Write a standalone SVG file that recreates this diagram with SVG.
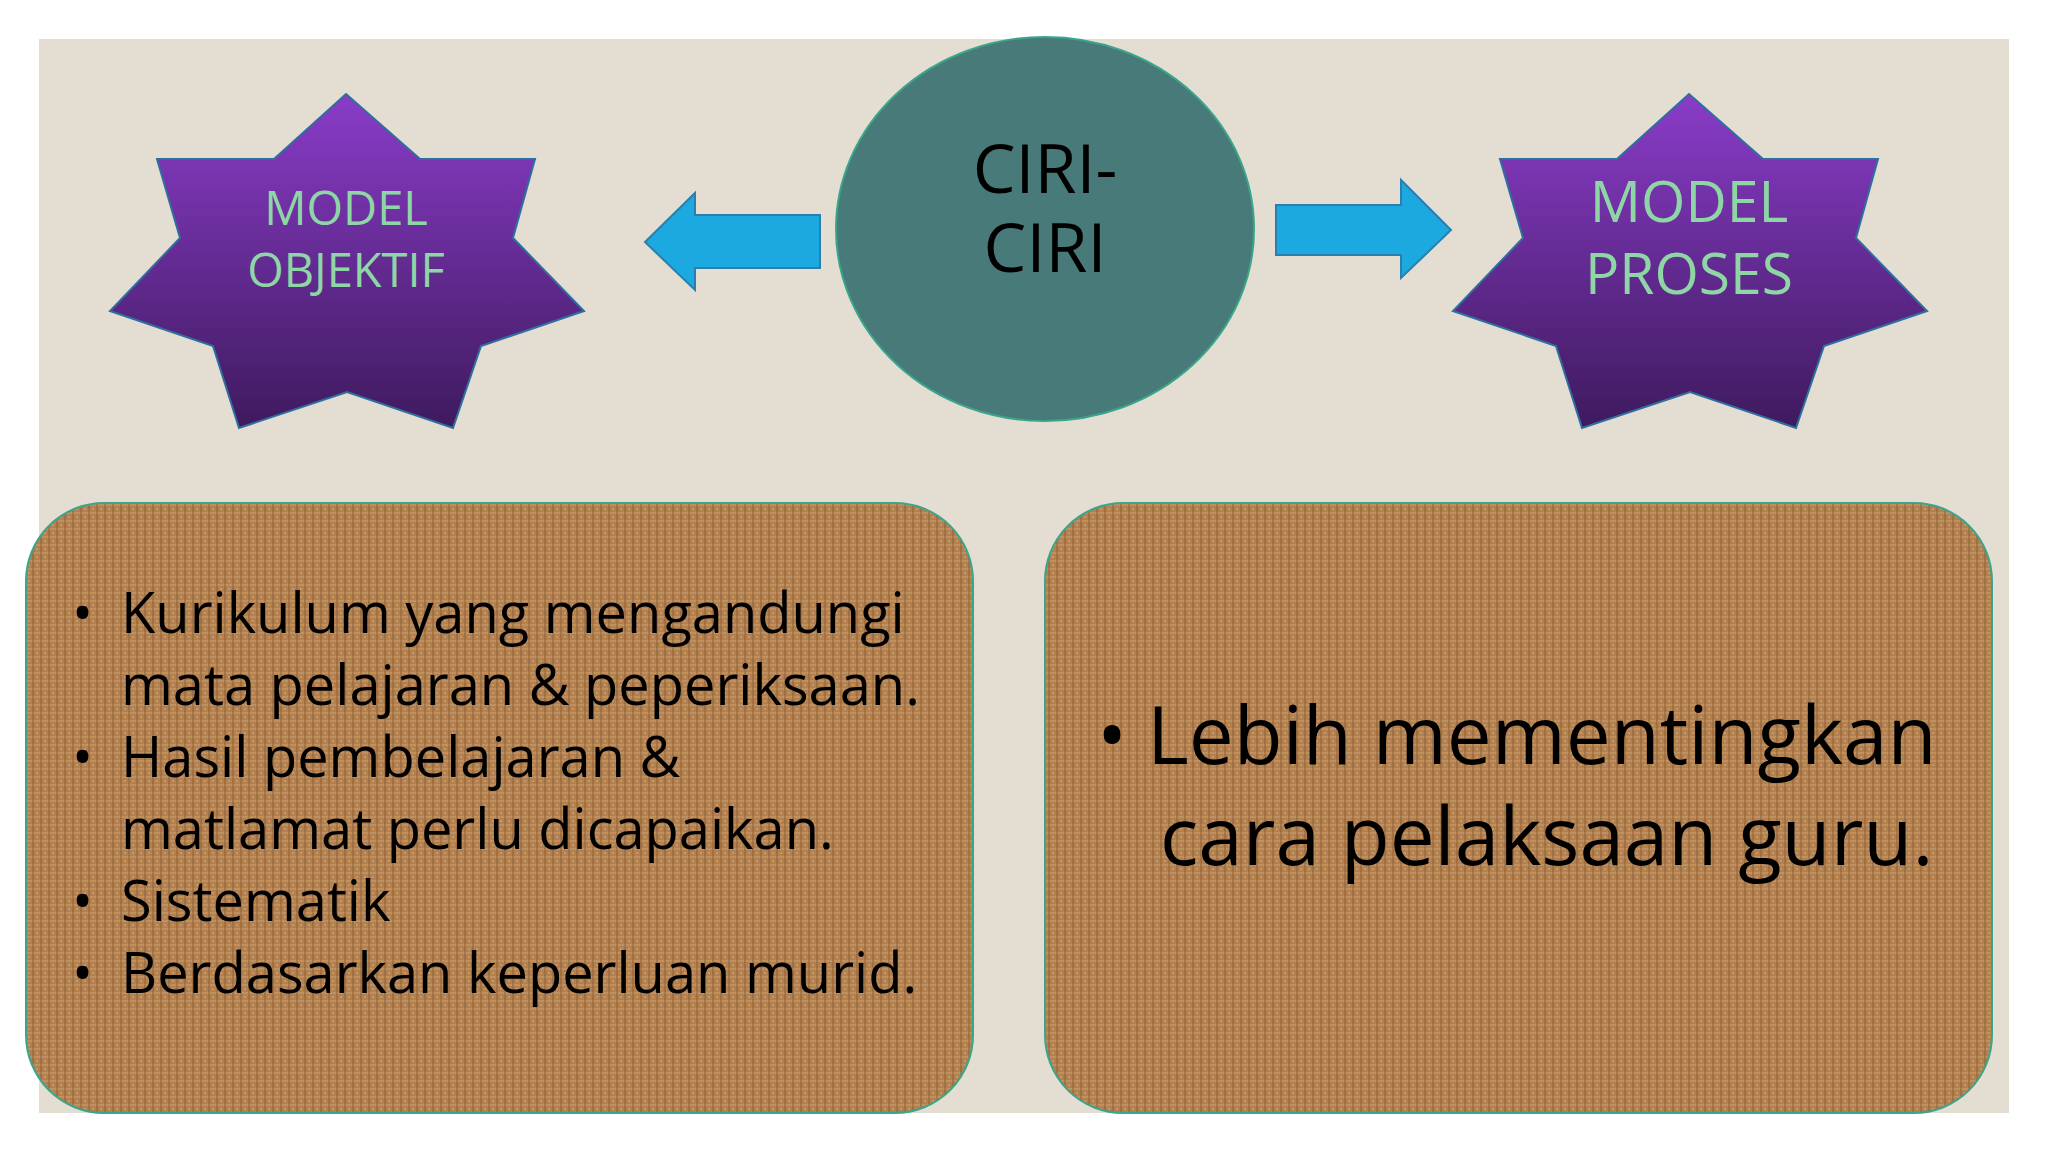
<svg xmlns="http://www.w3.org/2000/svg" width="2048" height="1152" viewBox="0 0 2048 1152">
<defs>
<linearGradient id="sg" x1="0" y1="0" x2="0" y2="1"><stop offset="0" stop-color="#8a3cc8"/><stop offset="1" stop-color="#3e1a5e"/></linearGradient>
<pattern id="burlap" width="8" height="8" patternUnits="userSpaceOnUse">
<rect width="8" height="8" fill="#b3804f"/>
<rect x="0" y="0" width="8" height="2" fill="#c79766" opacity="0.7"/>
<rect x="0" y="0" width="2" height="8" fill="#8e5f35" opacity="0.5"/>
<rect x="4" y="4" width="2" height="2" fill="#d2a778" opacity="0.6"/>
</pattern>
<style>
.star{fill:url(#sg);stroke:#2f6fa0;stroke-width:2}
.st{font-family:"Open Sans","Noto Sans",sans-serif;fill:#8fd6a6;text-anchor:middle}
.box{fill:url(#burlap);stroke:#3aa58a;stroke-width:2}
.bt{font-family:"Open Sans","Noto Sans",sans-serif;fill:#000}
.arr{fill:#1ca9e0;stroke:#2a7fae;stroke-width:2}
</style>
</defs>
<rect width="2048" height="1152" fill="#fff"/>
<rect x="39" y="39" width="1970" height="1074" fill="#e4ddd1"/>
<g id="connectors">
<polygon class="arr" points="820,215 695,215 695,193 645,242 695,290 695,268 820,268"/>
<polygon class="arr" points="1276,205 1401,205 1401,180 1451,230 1401,278 1401,255 1276,255"/>
</g>
<g id="ciri">
<ellipse cx="1045" cy="229" rx="209" ry="192" fill="#477a78" stroke="#3aa58a" stroke-width="2"/>
<text x="1045" y="193" font-family="Open Sans,Noto Sans,sans-serif" font-size="68" text-anchor="middle">CIRI-</text>
<text x="1045" y="272" font-family="Open Sans,Noto Sans,sans-serif" font-size="68" text-anchor="middle">CIRI</text>
</g>
<g id="objektif">
<polygon class="star" points="346,94 420,159 535,159 513,238 584,311 481,346 453,428 347,392 239,428 213,346 110,311 180,238 157,159 274,159"/>
<text class="st" x="346" y="225" font-size="47">MODEL</text>
<text class="st" x="346" y="287" font-size="47">OBJEKTIF</text>
</g>
<g id="proses">
<polygon class="star" transform="translate(1343,0)" points="346,94 420,159 535,159 513,238 584,311 481,346 453,428 347,392 239,428 213,346 110,311 180,238 157,159 274,159"/>
<text class="st" x="1689" y="222" font-size="57">MODEL</text>
<text class="st" x="1689" y="294" font-size="57">PROSES</text>
</g>
<g id="leftbox">
<rect class="box" x="26" y="503" width="947" height="610" rx="78"/>
<g class="bt" font-size="56">
<text x="72" y="633">•</text><text x="121" y="633">Kurikulum yang mengandungi</text>
<text x="121" y="705">mata pelajaran &amp; peperiksaan.</text>
<text x="72" y="777">•</text><text x="121" y="777">Hasil pembelajaran &amp;</text>
<text x="121" y="849">matlamat perlu dicapaikan.</text>
<text x="72" y="921">•</text><text x="121" y="921">Sistematik</text>
<text x="72" y="993">•</text><text x="121" y="993">Berdasarkan keperluan murid.</text>
</g>
</g>
<g id="rightbox">
<rect class="box" x="1045" y="503" width="947" height="610" rx="78"/>
<g class="bt" font-size="80">
<text x="1097" y="764">•</text><text x="1147" y="764">Lebih mementingkan</text>
<text x="1160" y="865">cara pelaksaan guru.</text>
</g>
</g>
</svg>
